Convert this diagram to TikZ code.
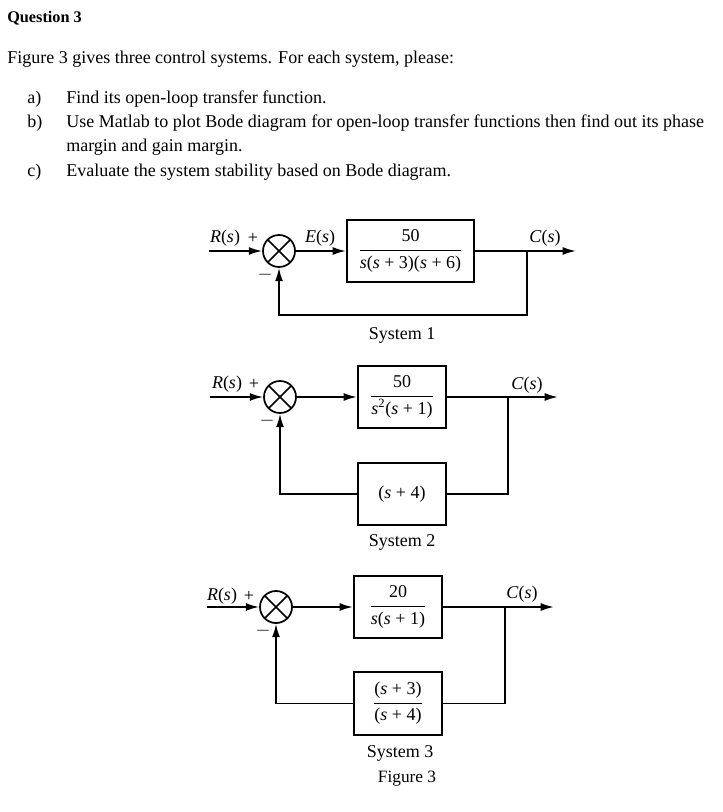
\documentclass[tikz,border=0pt]{standalone}
\usepackage{fontspec}
\setmainfont{Liberation Serif}
\usepackage{amsmath}
\usetikzlibrary{arrows.meta}
\newcommand{\vs}{\textit{s}}
\newcommand{\sig}[1]{\textit{#1}(\textit{s})}
\begin{document}
\begin{tikzpicture}[x=0.75pt,y=-0.75pt,
  body/.style={font=\fontsize{13.5}{16}\selectfont, inner sep=0pt, anchor=base west},
  lab/.style={font=\fontsize{13.5}{16}\selectfont, inner sep=0pt},
  sumnode/.style={circle, draw, line width=1.3pt, minimum size=24pt, inner sep=0pt,
    path picture={\draw[line width=1.3pt] (path picture bounding box.north west) -- (path picture bounding box.south east)
      (path picture bounding box.north east) -- (path picture bounding box.south west);}},
  blockA/.style={draw, line width=1.6pt, minimum width=95.25pt, minimum height=46.5pt, inner sep=0pt, font=\fontsize{13.5}{16}\selectfont},
  blockB/.style={draw, line width=1.6pt, minimum width=66pt, minimum height=47pt, inner sep=0pt, font=\fontsize{13.5}{16}\selectfont},
  wire/.style={line width=1.3pt},
  arr/.style={wire, -{Latex[length=10pt,width=6pt]}},
]
\useasboundingbox (0,0) rectangle (722,812);
\fill[white] (0,0) rectangle (722,812);

% ---------- header ----------
\node[body, font=\fontsize{12.2}{14}\selectfont] (q) at (7,23) {\textbf{Question 3}};
\node[body] (intro) at (7,64) {Figure 3 gives three control systems. For each system, please:};
\node[body] (la) at (27,104) {a)};
\node[body] (ta) at (66,104) {Find its open-loop transfer function.};
\node[body] (lb) at (27,128) {b)};
\node[body] (tb) at (66,128) {Use Matlab to plot Bode diagram for open-loop transfer functions then find out its phase};
\node[body] (tb2) at (66,152) {margin and gain margin.};
\node[body] (lc) at (27,177) {c)};
\node[body] (tc) at (66,177) {Evaluate the system stability based on Bode diagram.};

% ---------- System 1 ----------
\node[sumnode] (s1) at (279,251) {};
\node[blockA] (g1) at (410.5,251) {$\dfrac{\text{50}}{\text{\vs(\vs\ + 3)(\vs\ + 6)}}$};
\coordinate (in1) at (209,251);
\coordinate (b1) at (527,251);
\coordinate (out1) at (576,251);
\coordinate (fb1) at (527,315);
\draw[arr] (in1) -- (s1.west);
\draw[arr] (s1.east) -- (g1.west);
\draw[arr] (g1.east) -- (out1);
\draw[arr] (b1) -- (fb1) -| (s1.south);
\node[lab] (r1) at (225,238) {\sig{R}};
\node[lab] (p1) at (253,238) {+};
\node[lab] (m1) at (265,275) {$-$};
\node[lab] (e1) at (320,238) {\sig{E}};
\node[lab] (c1) at (545,238) {\sig{C}};
\node[lab] (sys1) at (402,335) {System 1};

% ---------- System 2 ----------
\node[sumnode] (s2) at (280,397) {};
\node[blockB] (g2) at (402,397) {$\dfrac{\text{50}}{\text{\vs\textsuperscript{2}(\vs\ + 1)}}$};
\node[blockB] (h2) at (402,494) {(\vs\ + 4)};
\coordinate (in2) at (210,397);
\coordinate (b2) at (508,397);
\coordinate (out2) at (558,397);
\draw[arr] (in2) -- (s2.west);
\draw[arr] (s2.east) -- (g2.west);
\draw[arr] (g2.east) -- (out2);
\draw[wire] (b2) |- (h2.east);
\draw[arr] (h2.west) -| (s2.south);
\node[lab] (r2) at (227,384) {\sig{R}};
\node[lab] (p2) at (254,384) {+};
\node[lab] (m2) at (267,421) {$-$};
\node[lab] (c2) at (527,385) {\sig{C}};
\node[lab] (sys2) at (402,542) {System 2};

% ---------- System 3 ----------
\node[sumnode] (s3) at (276,607) {};
\node[blockB] (g3) at (398,607) {$\dfrac{\text{20}}{\text{\vs(\vs\ + 1)}}$};
\node[blockB] (h3) at (398,703.5) {$\dfrac{\text{(\vs\ + 3)}}{\text{(\vs\ + 4)}}$};
\coordinate (in3) at (207,607);
\coordinate (b3) at (505,607);
\coordinate (out3) at (554,607);
\draw[arr] (in3) -- (s3.west);
\draw[arr] (s3.east) -- (g3.west);
\draw[arr] (g3.east) -- (out3);
\draw[wire] (b3) |- (h3.east);
\draw[arr] (h3.west) -| (s3.south);
\node[lab] (r3) at (222,596) {\sig{R}};
\node[lab] (p3) at (249,596) {+};
\node[lab] (m3) at (263,631) {$-$};
\node[lab] (c3) at (522,594) {\sig{C}};
\node[lab] (sys3) at (400,753) {System 3};
\node[lab, font=\fontsize{13}{15}\selectfont] (fig) at (407,779) {Figure 3};
\end{tikzpicture}
\end{document}
